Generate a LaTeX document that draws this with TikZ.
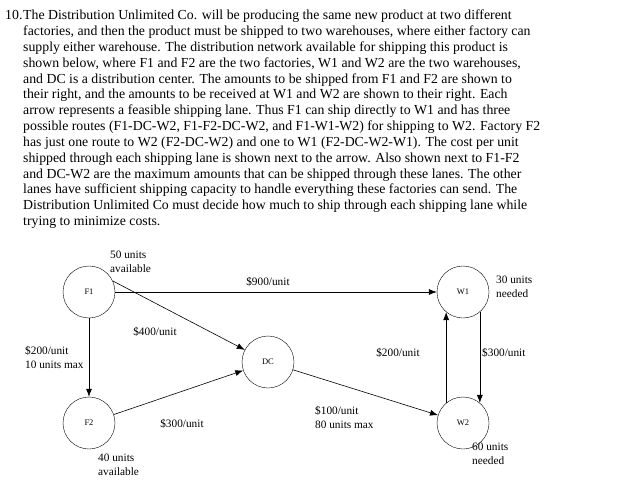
\documentclass[tikz,border=0pt]{standalone}
\usepackage{fontspec}
\setmainfont{Liberation Serif}
\usetikzlibrary{positioning,arrows.meta}
\begin{document}
\begin{tikzpicture}[x=1pt,y=-1pt]
  \tikzset{
    site/.style={draw, circle, minimum size=52pt, inner sep=0pt, font=\fontsize{8.5}{9}\selectfont},
    line/.style={anchor=base west, inner sep=0pt, font=\fontsize{13.8}{15.8}\selectfont},
    lbl/.style={align=left, inner sep=0pt, font=\fontsize{11.3}{14}\selectfont},
    lane/.style={-{Latex[length=8pt,width=6pt]}, semithick}
  }
  \useasboundingbox (0,0) rectangle (624,495);

  % problem statement
  \node[line] (num) at (5,20) {10.};
  \foreach \t [count=\i] in {
    {The Distribution Unlimited Co. will be producing the same new product at two different},
    {factories, and then the product must be shipped to two warehouses, where either factory can},
    {supply either warehouse.  The distribution network available for shipping this product is},
    {shown below, where F1 and F2 are the two factories, W1 and W2 are the two warehouses,},
    {and DC is a distribution center.  The amounts to be shipped from F1 and F2 are shown to},
    {their right, and the amounts to be received at W1 and W2 are shown to their right.  Each},
    {arrow represents a feasible shipping lane.  Thus F1 can ship directly to W1 and has three},
    {possible routes (F1-DC-W2, F1-F2-DC-W2, and F1-W1-W2) for shipping to W2.  Factory F2},
    {has just one route to W2 (F2-DC-W2) and one to W1 (F2-DC-W2-W1).  The cost per unit},
    {shipped through each shipping lane is shown next to the arrow.  Also shown next to F1-F2},
    {and DC-W2 are the maximum amounts that can be shipped through these lanes.  The other},
    {lanes have sufficient shipping capacity to handle everything these factories can send.  The},
    {Distribution Unlimited Co must decide how much to ship through each shipping lane while},
    {trying to minimize costs.}}
    \node[line] (txt\i) at (23,20+15.8*\i-15.8) {\t};

  % network
  \node[site] (F1) at (89,292) {F1};
  \node[site] (F2) at (89,423) {F2};
  \node[site] (DC) at (268,362) {DC};
  \node[site] (W1) at (463,292) {W1};
  \node[site] (W2) at (463,423) {W2};

  \draw[lane] (F1) -- (W1);
  \draw[lane] (F1.25) -- (DC);
  \draw[lane] (F1) -- (F2);
  \draw[lane] (F2) -- (DC);
  \draw[lane] (DC) -- (W2);
  \draw[lane] (W2.130) -- (W1.230);
  \draw[lane] (W1.-50) -- (W2.50);

  % labels
  \node[lbl, anchor=north west] (f1cap) at (110,251) {50 units\\available};
  \node[lbl, anchor=north west] (f2cap) at (98,454) {40 units\\available};
  \node[lbl, anchor=north west] (w1need) at (496,276) {30 units\\needed};
  \node[lbl, anchor=north west] (w2need) at (472,443) {60 units\\needed};
  \node[lbl] (c900) at (268,282) {\$900/unit};
  \node[lbl] (c400) at (155,332) {\$400/unit};
  \node[lbl, anchor=north west] (c200a) at (25,346) {\$200/unit\\10 units max};
  \node[lbl] (c200b) at (398,353) {\$200/unit};
  \node[lbl, anchor=west] (c300b) at (482,353) {\$300/unit};
  \node[lbl, anchor=north west] (c100) at (315,406) {\$100/unit\\80 units max};
  \node[lbl] (c300a) at (182,424) {\$300/unit};
\end{tikzpicture}
\end{document}
